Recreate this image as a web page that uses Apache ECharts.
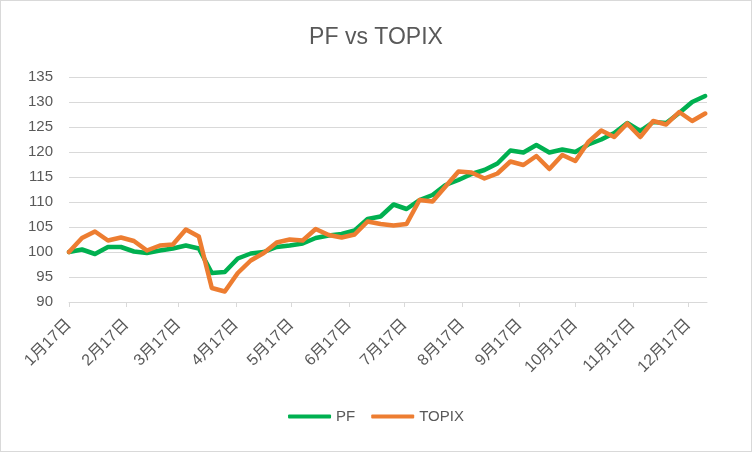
<!DOCTYPE html>
<html>
<head>
<meta charset="utf-8">
<script src="https://cdn.jsdelivr.net/npm/echarts@6/dist/echarts.min.js"></script>
<style>
  html, body { margin: 0; padding: 0; background: #fff; }
  #chart { width: 750px; height: 450px; border: 1px solid #d9d9d9; }
</style>
</head>
<body>
<div id="chart"></div>
<script>
// weekly observation dates
const dates = [
  '2022-01-17', '2022-01-24', '2022-01-31', '2022-02-07', '2022-02-14', '2022-02-21', '2022-02-28',
  '2022-03-07', '2022-03-14', '2022-03-21', '2022-03-28', '2022-04-04', '2022-04-11', '2022-04-18',
  '2022-04-25', '2022-05-02', '2022-05-09', '2022-05-16', '2022-05-23', '2022-05-30', '2022-06-06',
  '2022-06-13', '2022-06-20', '2022-06-27', '2022-07-04', '2022-07-11', '2022-07-18', '2022-07-25',
  '2022-08-01', '2022-08-08', '2022-08-15', '2022-08-22', '2022-08-29', '2022-09-05', '2022-09-12',
  '2022-09-19', '2022-09-26', '2022-10-03', '2022-10-10', '2022-10-17', '2022-10-24', '2022-10-31',
  '2022-11-07', '2022-11-14', '2022-11-21', '2022-11-28', '2022-12-05', '2022-12-12', '2022-12-19',
  '2022-12-26'
];
const pf = [
  100.0, 100.5, 99.6, 101.0, 101.0, 100.1, 99.8,
  100.3, 100.7, 101.3, 100.7, 95.8, 96.0, 98.7,
  99.7, 100.0, 101.0, 101.3, 101.7, 102.8, 103.3,
  103.6, 104.3, 106.6, 107.1, 109.5, 108.6, 110.4,
  111.4, 113.4, 114.4, 115.6, 116.4, 117.7, 120.3,
  119.9, 121.4, 119.9, 120.5, 120.0, 121.5, 122.5,
  123.8, 125.8, 124.2, 126.0, 125.8, 127.8, 130.0,
  131.2
];
const topix = [
  100.0, 102.8, 104.1, 102.3, 102.9, 102.2, 100.3,
  101.3, 101.5, 104.5, 103.1, 92.8, 92.1, 95.8,
  98.3, 99.8, 101.9, 102.5, 102.3, 104.6, 103.4,
  102.9, 103.5, 106.1, 105.6, 105.3, 105.6, 110.4,
  110.1, 113.1, 116.1, 115.9, 114.7, 115.7, 118.1,
  117.4, 119.2, 116.6, 119.4, 118.2, 122.0, 124.3,
  123.0, 125.7, 123.0, 126.2, 125.5, 128.0, 126.2,
  127.7
];
// x-axis tick dates (label: M月17日)
const tickDates = [
  '2022-01-17', '2022-02-17', '2022-03-17', '2022-04-17', '2022-05-17', '2022-06-17',
  '2022-07-17', '2022-08-17', '2022-09-17', '2022-10-17', '2022-11-17', '2022-12-17'
];
const axisStart = '2022-01-17';
const axisEnd = '2022-12-27';

const DAY = 86400000;
const t0 = Date.parse(axisStart);
const toDay = d => Math.round((Date.parse(d) - t0) / DAY);
const tickDays = tickDates.map(toDay);
const labelOf = {};
tickDates.forEach((d, i) => {
  const dt = new Date(Date.parse(d));
  labelOf[tickDays[i]] = (dt.getUTCMonth() + 1) + '月' + dt.getUTCDate() + '日';
});

const font = '"Liberation Sans", "Noto Sans CJK JP", sans-serif';
const chart = echarts.init(document.getElementById('chart'));
chart.setOption({
  animation: false,
  textStyle: { fontFamily: font },
  title: {
    text: 'PF vs TOPIX',
    left: 'center',
    top: 20,
    textStyle: { fontSize: 23, fontWeight: 'normal', color: '#595959', fontFamily: font }
  },
  legend: {
    bottom: 22,
    left: 'center',
    itemWidth: 43,
    itemHeight: 4,
    itemGap: 16,
    icon: 'roundRect',
    textStyle: { fontSize: 15, color: '#595959', fontFamily: font },
    data: ['PF', 'TOPIX']
  },
  grid: { left: 68, right: 44, top: 76, bottom: 149 },
  xAxis: {
    type: 'value',
    min: 0,
    max: toDay(axisEnd),
    splitLine: { show: false },
    axisLine: { show: true, lineStyle: { color: '#d9d9d9', width: 1 } },
    axisTick: { show: true, customValues: tickDays, length: 5, lineStyle: { color: '#d9d9d9' } },
    axisLabel: {
      customValues: tickDays,
      rotate: 45,
      margin: 20,
      fontSize: 16,
      color: '#595959',
      formatter: v => labelOf[v] || ''
    }
  },
  yAxis: {
    type: 'value',
    min: 90,
    max: 135,
    interval: 5,
    axisLine: { show: false },
    axisTick: { show: false },
    axisLabel: { fontSize: 15, color: '#595959', margin: 16 },
    splitLine: { lineStyle: { color: '#d9d9d9', width: 1 } }
  },
  series: [
    {
      name: 'PF',
      type: 'line',
      data: dates.map((d, i) => [toDay(d), pf[i]]),
      showSymbol: false,
      color: '#00b050',
      lineStyle: { width: 4.5, cap: 'round', join: 'round' }
    },
    {
      name: 'TOPIX',
      type: 'line',
      data: dates.map((d, i) => [toDay(d), topix[i]]),
      showSymbol: false,
      color: '#ed7d31',
      lineStyle: { width: 4.5, cap: 'round', join: 'round' }
    }
  ]
});
</script>
</body>
</html>
